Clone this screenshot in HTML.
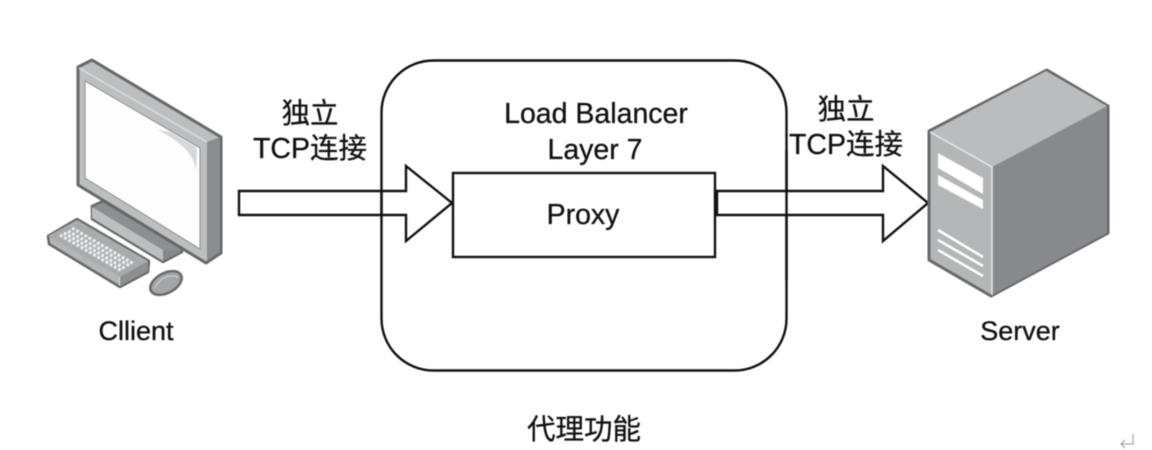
<!DOCTYPE html>
<html><head><meta charset="utf-8">
<style>
html,body{margin:0;padding:0;background:#fff;width:1152px;height:450px;overflow:hidden}
svg{display:block;filter:blur(0.45px)}
text{font-family:"Liberation Sans","Noto Sans CJK SC",sans-serif;font-size:28.5px;fill:#111;stroke:#111;stroke-width:.3px;text-anchor:middle}
</style></head><body>
<svg width="1152" height="450" viewBox="0 0 1152 450" xmlns="http://www.w3.org/2000/svg">
<rect width="1152" height="450" fill="#fff"/>

<!-- load balancer -->
<rect x="381.5" y="60.5" width="405" height="310" rx="52" ry="52" fill="#fff" stroke="#111" stroke-width="2.4"/>

<!-- arrows -->
<path d="M239 191H406V166L452 203L406 241V215H239Z" fill="none" stroke="#111" stroke-width="2.4"/>
<line x1="381.5" y1="190" x2="381.5" y2="216" stroke="#111" stroke-width="2.4"/>
<path d="M716 191H883V166L928 203L883 241V215H716" fill="#fff" stroke="#111" stroke-width="2.4"/>
<line x1="786.5" y1="150" x2="786.5" y2="280" stroke="#111" stroke-width="2.4"/>
<rect x="453" y="173" width="262" height="84" fill="#fff" stroke="#111" stroke-width="2.4"/>
<line x1="717" y1="191" x2="717" y2="215" stroke="#111" stroke-width="2.4"/>

<!-- labels -->
<text x="310" y="123">独立</text>
<text x="310" y="158">TCP连接</text>
<text x="846" y="119">独立</text>
<text x="846" y="154">TCP连接</text>
<text x="596" y="123">Load Balancer</text>
<text x="595" y="159">Layer 7</text>
<text x="583" y="224">Proxy</text>
<text x="136" y="340" style="font-size:27px">Cllient</text>
<text x="1020" y="340" style="font-size:27px">Server</text>
<text x="584" y="439">代理功能</text>

<!-- return mark -->
<path d="M1133 434V444H1121M1125 440L1121 444L1125 448" fill="none" stroke="#999" stroke-width="1"/>

<!-- monitor stand -->
<path d="M92 206L103 201L182 248V252L163 262L92 219Z" fill="#8d8f91" stroke="#66686a" stroke-width="2.5" stroke-linejoin="round"/>
<path d="M92 207L163 250V261L92 218Z" fill="#bcbec0"/>
<path d="M163 250L181 250V252L163 261Z" fill="#85878a"/>

<!-- monitor -->
<path d="M78 67L92 60L221 137V253L206 263L78 185Z" fill="#bcbec0" stroke="#66686a" stroke-width="3" stroke-linejoin="round"/>
<path d="M207 142L220 137V252L207 261Z" fill="#8b8d90"/>
<path d="M79 68L207 142" stroke="#dcdddf" stroke-width="1.5" fill="none"/>
<path d="M85 81L200 148V249L85 178Z" fill="#fdfdfd" stroke="#8a8c8e" stroke-width="1"/>
<path d="M158 130C180 142 193 152 196 170C197 155 197 150 196 147L170 132Z" fill="#d3d8dd"/>

<!-- keyboard -->
<path d="M48 236L77 219L149 261L148 272L120 287L49 244Z" fill="#b3b5b7" stroke="#66686a" stroke-width="2.5" stroke-linejoin="round"/>
<path d="M48 236L77 220L148 261L120 277Z" fill="#a9abad"/>
<path d="M120 277V286" stroke="#e3e4e5" stroke-width="1.5"/>
<path d="M120 277L148 261V271L120 286Z" fill="#8d8f92"/>
<g stroke="#eceded" stroke-width="3.2" stroke-dasharray="3 1.8" fill="none">
<path d="M72 228L134 264"/>
<path d="M68 231L130 266"/>
<path d="M64 233L126 269"/>
<path d="M60 235L122 271"/>
</g>

<!-- mouse -->
<ellipse cx="166" cy="283" rx="17" ry="10" transform="rotate(-28 166 283)" fill="#a3a5a7" stroke="#66686a" stroke-width="2.5"/>
<path d="M155 288C160 277 170 274 178 277" stroke="#d3d4d5" stroke-width="1" fill="none"/>

<!-- server -->
<path d="M929 131L1047 70L1108 106V233L991 296L929 260Z" fill="#b4b6b8" stroke="#66686a" stroke-width="3" stroke-linejoin="round"/>
<path d="M992 167L1107 106V233L992 295Z" fill="#88898c"/>
<path d="M930 132L1046 71L1107 106L992 167Z" fill="#bbbcbe"/>
<path d="M930 132L992 167V295" stroke="#e6e7e8" stroke-width="1.5" fill="none"/>
<path d="M938 153L983 178V194L938 168Z" fill="#fff"/>
<path d="M938 175L983 200V209L938 185Z" fill="#fff"/>
<g stroke="#fff" stroke-width="2.6" fill="none">
<path d="M938 230L983 257"/>
<path d="M938 240L983 266"/>
<path d="M938 250L983 276"/>
</g>
</svg>
</body></html>
